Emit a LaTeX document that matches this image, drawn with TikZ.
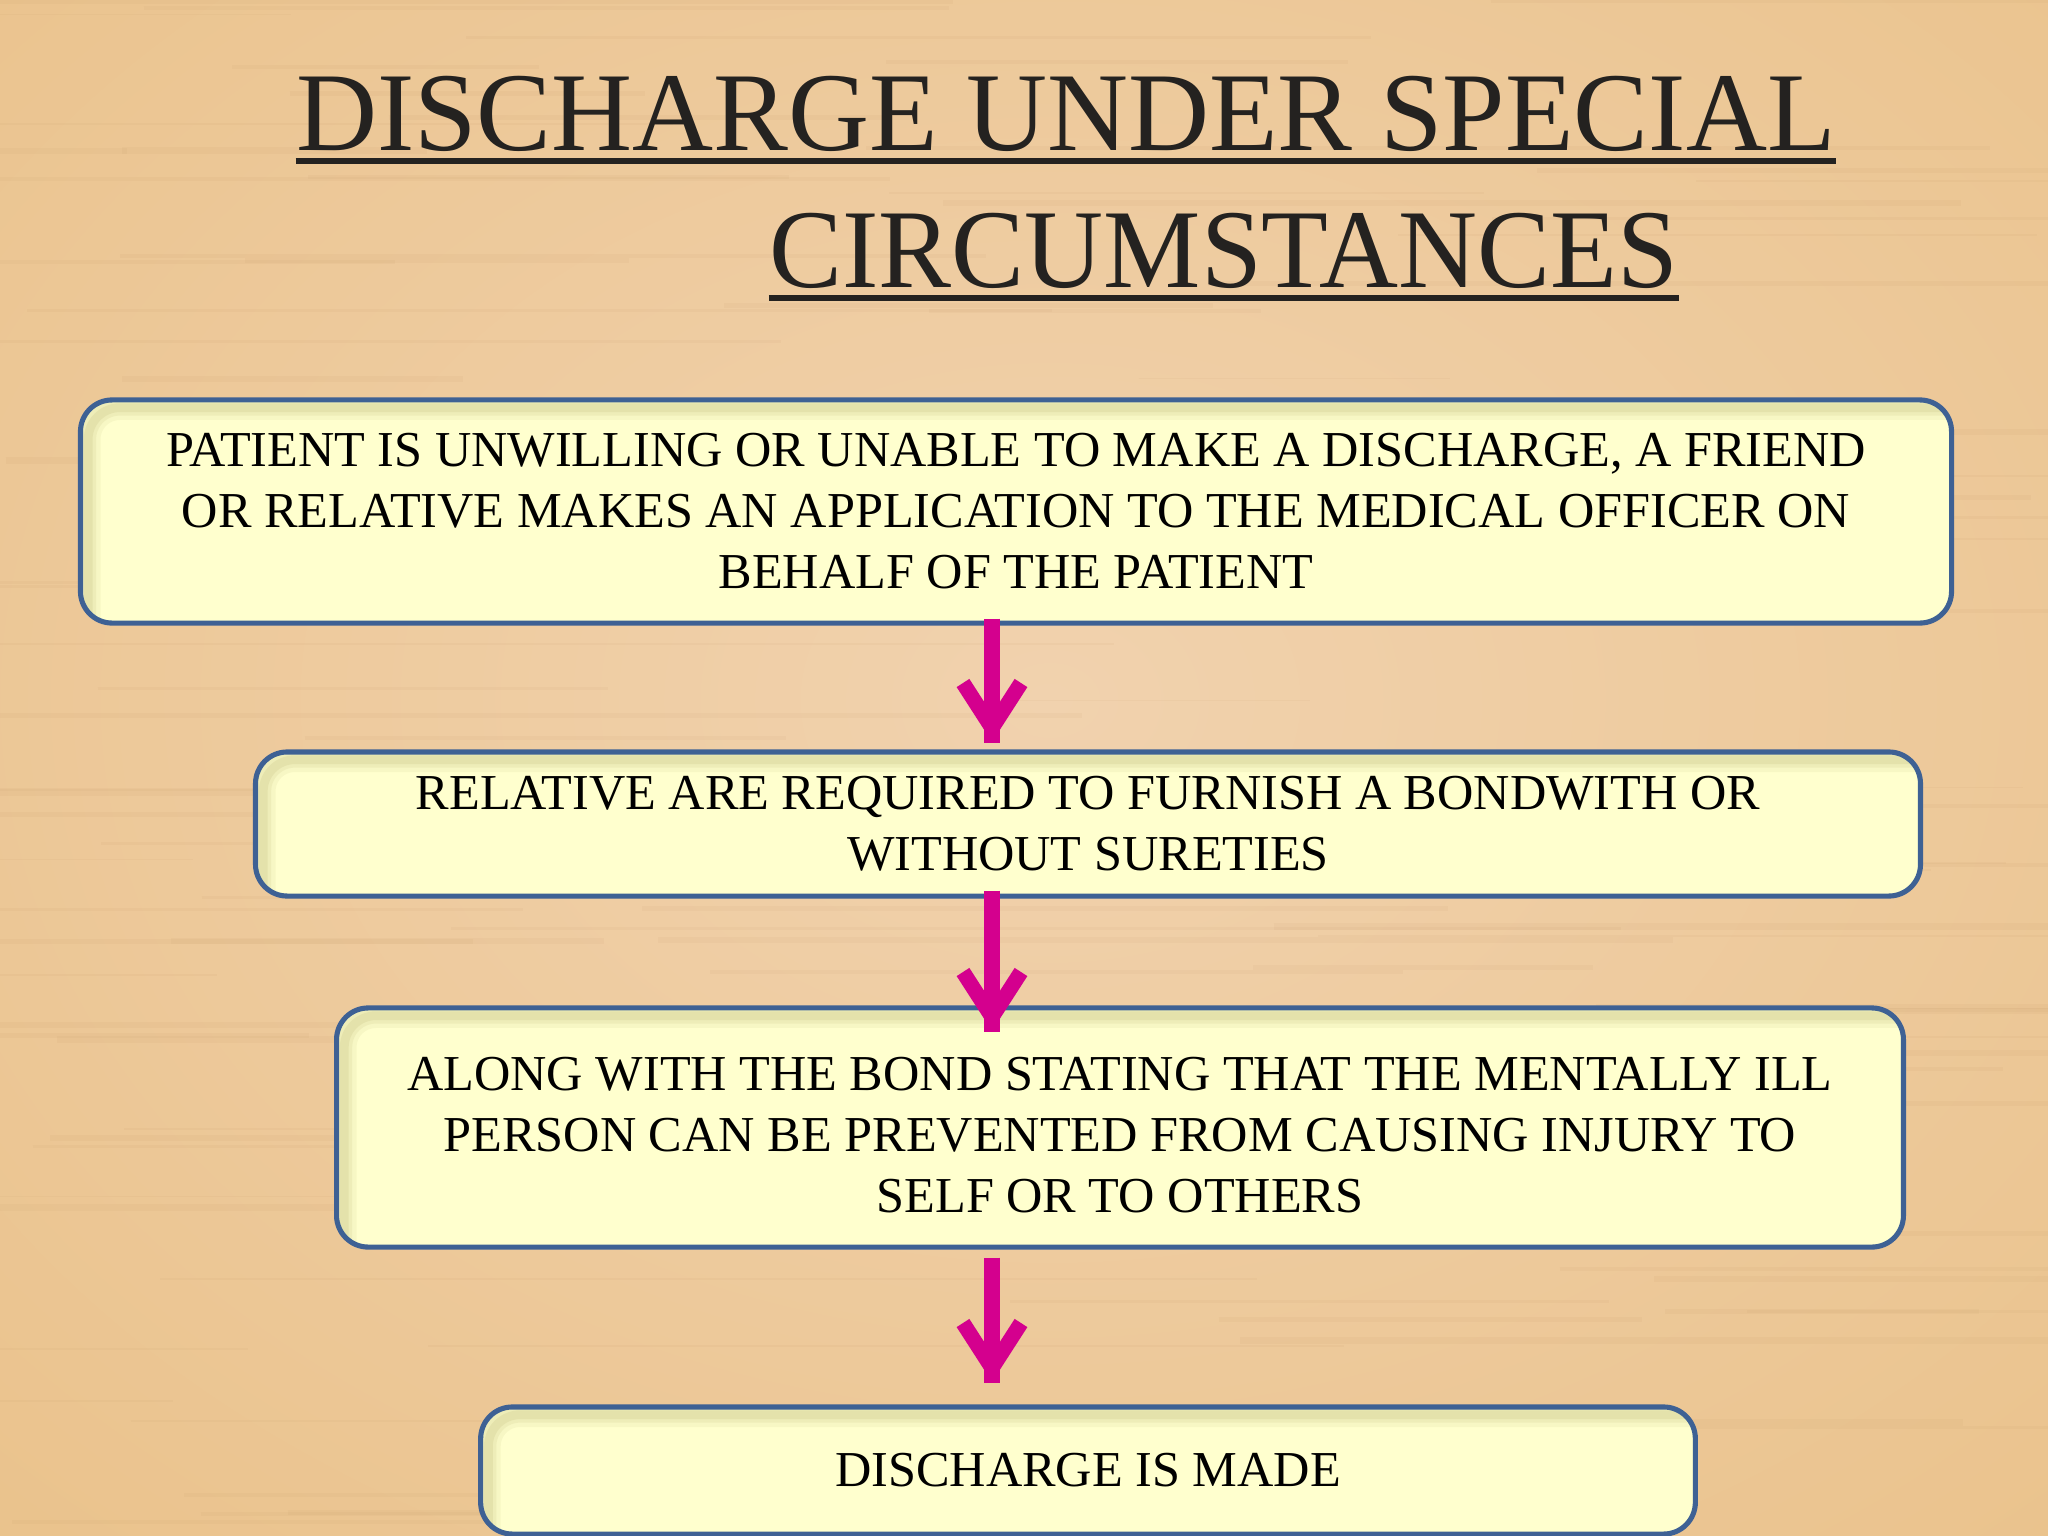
\documentclass[tikz,border=0pt]{standalone}
\usepackage{fontspec}
\setmainfont{Liberation Serif}
\usetikzlibrary{calc}
\definecolor{bgbase}{RGB}{232,190,130}
\definecolor{bglight}{RGB}{241,210,174}
\definecolor{grain}{RGB}{170,120,70}
\definecolor{boxfill}{RGB}{255,255,206}
\definecolor{boxline}{RGB}{62,97,148}
\definecolor{arrowc}{RGB}{212,0,142}
\definecolor{titlec}{RGB}{36,34,32}
\definecolor{shadc}{RGB}{185,180,115}
\tikzset{
  flowbox/.style={draw=boxline, line width=1.45pt, fill=boxfill, rounded corners=9pt,
    align=center, inner sep=0pt, font=\fontsize{14.3pt}{17.35pt}\selectfont,
    path picture={
      \foreach \w/\o in {7/0.10,4.5/0.14,2.5/0.18}{
        \draw[line width=\w pt, draw=shadc, opacity=\o, rounded corners=9pt]
          ([shift={(2.2pt,-2.2pt)}]path picture bounding box.north west) rectangle
          ([shift={(9pt,-9pt)}]path picture bounding box.south east);
      }
    }},
  titletext/.style={inner sep=0pt, anchor=base, text=titlec, font=\fontsize{31.9pt}{38pt}\selectfont},
  underline/.style={draw=titlec, line width=1.45pt},
  shaft/.style={draw=arrowc, line width=4.3pt, line cap=butt},
  barb/.style={draw=arrowc, line width=4.3pt, line cap=butt, line join=miter, miter limit=10},
}
\begin{document}
\begin{tikzpicture}[x=0.01cm, y=-0.01cm]
\useasboundingbox (0,0) rectangle (2048,1536);
% background
\begin{scope}
  \clip (0,0) rectangle (2048,1536);
  \fill[bgbase] (0,0) rectangle (2048,1536);
  \shade[inner color=bglight, outer color=bgbase] (-950,-800) rectangle (3050,2200);
  \pgfmathsetseed{11}
  \foreach \i in {1,...,140}{
    \pgfmathsetmacro\yy{rnd*1536}
    \pgfmathsetmacro\xx{rnd*2048-300}
    \pgfmathsetmacro\ll{300+rnd*900}
    \pgfmathsetmacro\ww{0.4+rnd*1.6}
    \draw[grain, opacity=0.05, line width=\ww pt] (\xx,\yy) -- ++(\ll,0);
  }
\end{scope}

% title
\node[titletext] (t1) at (1066,150) {DISCHARGE UNDER SPECIAL};
\node[titletext] (t2) at (1224,287) {\scalebox{0.975}[1]{CIRCUMSTANCES}};
\draw[underline] ($(t1.base west)+(0,11)$) -- ($(t1.base east)+(0,11)$);
\draw[underline] ($(t2.base west)+(0,11)$) -- ($(t2.base east)+(0,11)$);

% boxes
\node[flowbox, minimum width=18.70cm, minimum height=2.23cm] (b1) at (1016,511.5)
  {PATIENT IS UNWILLING OR UNABLE TO MAKE A DISCHARGE, A FRIEND\\
   OR RELATIVE MAKES AN APPLICATION TO THE MEDICAL OFFICER ON\\
   BEHALF OF THE PATIENT};
\node[flowbox, minimum width=16.64cm, minimum height=1.44cm] (b2) at (1088,824)
  {RELATIVE ARE REQUIRED TO FURNISH A BONDWITH OR\\
   WITHOUT SURETIES};
\node[flowbox, minimum width=15.66cm, minimum height=2.39cm] (b3) at (1120,1127.5)
  {\rule{0pt}{0.49cm}ALONG WITH THE BOND STATING THAT THE MENTALLY ILL\\
   PERSON CAN BE PREVENTED FROM CAUSING INJURY TO\\
   SELF OR TO OTHERS};
\node[flowbox, minimum width=12.14cm, minimum height=1.27cm] (b4) at (1088,1470.5)
  {DISCHARGE IS MADE};

% arrows
\coordinate (tip1) at (992,743);
\coordinate (tip2) at (992,1032);
\coordinate (tip3) at (992,1383);
\draw[shaft] ($(b1.south -| tip1)+(0,-7)$) -- (tip1);
\draw[barb] ($(tip1)+(-29,-60)$) -- ($(tip1)+(0,-15)$) -- ($(tip1)+(29,-60)$);
\draw[shaft] ($(b2.south -| tip2)+(0,-8)$) -- (tip2);
\draw[barb] ($(tip2)+(-29,-60)$) -- ($(tip2)+(0,-15)$) -- ($(tip2)+(29,-60)$);
\draw[shaft] ($(b3.south -| tip3)+(0,8)$) -- (tip3);
\draw[barb] ($(tip3)+(-29,-60)$) -- ($(tip3)+(0,-15)$) -- ($(tip3)+(29,-60)$);
\end{tikzpicture}
\end{document}
